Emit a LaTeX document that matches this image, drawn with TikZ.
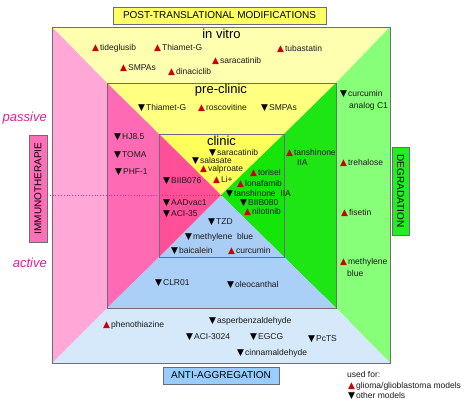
\documentclass[tikz,border=0pt]{standalone}
\usepackage{fontspec}
\setmainfont{Liberation Sans}
\newfontfamily\dv{DejaVu Sans}
\definecolor{yo}{HTML}{FFFFB0}
\definecolor{ym}{HTML}{FFFF80}
\definecolor{yi}{HTML}{FFFF5A}
\definecolor{po}{HTML}{FFA8D8}
\definecolor{pm}{HTML}{FF6AB5}
\definecolor{pi}{HTML}{FF4F98}
\definecolor{go}{HTML}{88FF78}
\definecolor{gm}{HTML}{1EE614}
\definecolor{gi}{HTML}{14E60A}
\definecolor{bo}{HTML}{D5E9FA}
\definecolor{bm}{HTML}{AAD0F7}
\definecolor{bi}{HTML}{AACDF5}
\definecolor{mred}{HTML}{CC0000}
\definecolor{mag}{HTML}{E0209A}
\definecolor{frame}{HTML}{6E6A78}
\definecolor{txt}{HTML}{1A1A1A}
\definecolor{boxy}{HTML}{FFFF66}
\definecolor{boxp}{HTML}{FF70B8}
\definecolor{boxg}{HTML}{22EE22}
\definecolor{boxb}{HTML}{99CCFF}
\newcommand\upm{{\dv\fontsize{9}{9}\selectfont\textcolor{mred}{▲}}\hspace{1pt}}
\newcommand\dnm{{\dv\fontsize{9}{9}\selectfont\textcolor{black}{▼}}\hspace{1pt}}
\tikzset{
  item/.style={inner sep=0pt, anchor=west, text=txt, font=\fontsize{8.5}{9}\selectfont},
  ttl/.style={inner sep=0pt, text=black, font=\fontsize{13}{14}\selectfont},
  sqline/.style={draw=frame, line width=0.9pt},
  catbox/.style={draw=frame, line width=0.9pt, inner sep=0pt, text=black, font=\fontsize{10}{11}\selectfont},
  side/.style={inner sep=0pt, anchor=east, text=mag, font=\fontsize{13}{14}\selectfont\itshape},
}
\begin{document}
\begin{tikzpicture}[x=1pt,y=-1pt]
\useasboundingbox (0,0) rectangle (474,405);
\fill[white] (0,0) rectangle (474,405);
\coordinate (C) at (221,195);
\coordinate (otl) at (52,27);  \coordinate (otr) at (390,27);
\coordinate (obr) at (390,363); \coordinate (obl) at (52,363);
\coordinate (mtl) at (107,83); \coordinate (mtr) at (336,83);
\coordinate (mbr) at (336,308); \coordinate (mbl) at (107,308);
\coordinate (itl) at (159,134); \coordinate (itr) at (284,134);
\coordinate (ibr) at (284,257); \coordinate (ibl) at (159,257);
% outer ring
\fill[yo] (otl)--(otr)--(mtr)--(mtl)--cycle;
\fill[go] (otr)--(obr)--(mbr)--(mtr)--cycle;
\fill[bo] (obr)--(obl)--(mbl)--(mbr)--cycle;
\fill[po] (obl)--(otl)--(mtl)--(mbl)--cycle;
% middle ring
\fill[ym] (mtl)--(mtr)--(itr)--(itl)--cycle;
\fill[gm] (mtr)--(mbr)--(ibr)--(itr)--cycle;
\fill[bm] (mbr)--(mbl)--(ibl)--(ibr)--cycle;
\fill[pm] (mbl)--(mtl)--(itl)--(ibl)--cycle;
% inner
\fill[yi] (itl)--(itr)--(C)--cycle;
\fill[gi] (itr)--(ibr)--(C)--cycle;
\fill[bi] (ibr)--(ibl)--(C)--cycle;
\fill[pi] (ibl)--(itl)--(C)--cycle;
\draw[sqline] (otl) rectangle (obr);
\draw[sqline] (mtl) rectangle (mbr);
\draw[sqline] (itl) rectangle (ibr);

% category boxes
\node[catbox, fill=boxy, minimum width=213pt, minimum height=17pt] (ptm) at (219.5,15.5) {POST-TRANSLATIONAL MODIFICATIONS};
\node[catbox, fill=boxp, minimum width=107pt, minimum height=18pt, rotate=90] (imm) at (38,188.5) {IMMUNOTHERAPIE};
\node[catbox, fill=boxg, minimum width=88pt, minimum height=17pt, rotate=-90] (deg) at (400.5,191) {DEGRADATION};
\node[catbox, fill=boxb, minimum width=116pt, minimum height=17pt] (agg) at (221,375.5) {ANTI-AGGREGATION};
\coordinate (dl) at (47,195);
\draw[mag, line width=0.8pt, dotted] (dl) -- (C);
\node[side] (pas) at (47,118) {passive};
\node[side] (act) at (47,263) {active};

% titles
\node[ttl] (tvit) at (221.5,34) {in vitro};
\node[ttl] (tpre) at (221,90) {pre-clinic};
\node[ttl] (tcli) at (221.5,140.5) {clinic};

% in vitro
\node[item] (a1) at (92,48) {\upm tideglusib};
\node[item] (a2) at (154,48) {\upm Thiamet-G};
\node[item] (a3) at (277,49) {\upm tubastatin};
\node[item] (a4) at (120,68) {\upm SMPAs};
\node[item] (a5) at (168,72) {\upm dinaciclib};
\node[item] (a6) at (212,61) {\upm saracatinib};
% pre-clinic top
\node[item] (b1) at (138,108) {\dnm Thiamet-G};
\node[item] (b2) at (198,108) {\upm roscovitine};
\node[item] (b3) at (261,108) {\dnm SMPAs};
% clinic top
\node[item] (c1) at (209,153) {\dnm saracatinib};
\node[item] (c2) at (192,161) {\dnm salasate};
\node[item] (c3) at (200,169.5) {\upm valproate};
\node[item] (c4) at (213,180) {\upm Li+};
% clinic right
\node[item] (d1) at (250,173) {\upm torisel};
\node[item] (d2) at (237,184) {\upm lonafamib};
\node[item] (d3) at (226,194) {\dnm tanshinone\ \ IIA};
\node[item] (d4) at (240,203) {\dnm BIIB080};
\node[item] (d5) at (244,212) {\upm nilotinib};
% clinic bottom
\node[item] (e1) at (208,222) {\dnm TZD};
\node[item] (e2) at (185,237) {\dnm methylene\ \ blue};
\node[item] (e3) at (171,251) {\dnm baicalein};
\node[item] (e4) at (228,251) {\upm curcumin};
% clinic left
\node[item] (f1) at (163,181) {\dnm BIIB076};
\node[item] (f2) at (163,203) {\dnm AADvac1};
\node[item] (f3) at (163,214) {\dnm ACI-35};
% pre-clinic left
\node[item] (g1) at (114,137) {\dnm HJ8.5};
\node[item] (g2) at (114,155) {\dnm TOMA};
\node[item] (g3) at (115,172) {\dnm PHF-1};
% pre-clinic right
\node[item] (h1) at (286,153) {\upm tanshinone};
\node[item] (h2) at (297,163) {IIA};
% pre-clinic bottom
\node[item] (i1) at (155,283) {\dnm CLR01};
\node[item] (i2) at (227,285) {\dnm oleocanthal};
% in vitro right
\node[item] (j1) at (340,94) {\dnm curcumin};
\node[item] (j2) at (349,106) {analog C1};
\node[item] (j3) at (340,163) {\upm trehalose};
\node[item] (j4) at (341,213) {\upm fisetin};
\node[item] (j5) at (340,262) {\upm methylene};
\node[item] (j6) at (347,273) {blue};
% in vitro bottom
\node[item] (k1) at (103,325) {\upm phenothiazine};
\node[item] (k2) at (209,321) {\dnm asperbenzaldehyde};
\node[item] (k3) at (186,337) {\dnm ACI-3024};
\node[item] (k4) at (250,337) {\dnm EGCG};
\node[item] (k5) at (308,339) {\dnm PcTS};
\node[item] (k6) at (237,353) {\dnm cinnamaldehyde};
% legend
\node[item] (l0) at (347,374) {used for:};
\node[item] (l1) at (348,386) {\upm glioma/glioblastoma models};
\node[item] (l2) at (348,396) {\dnm other models};
\end{tikzpicture}
\end{document}
